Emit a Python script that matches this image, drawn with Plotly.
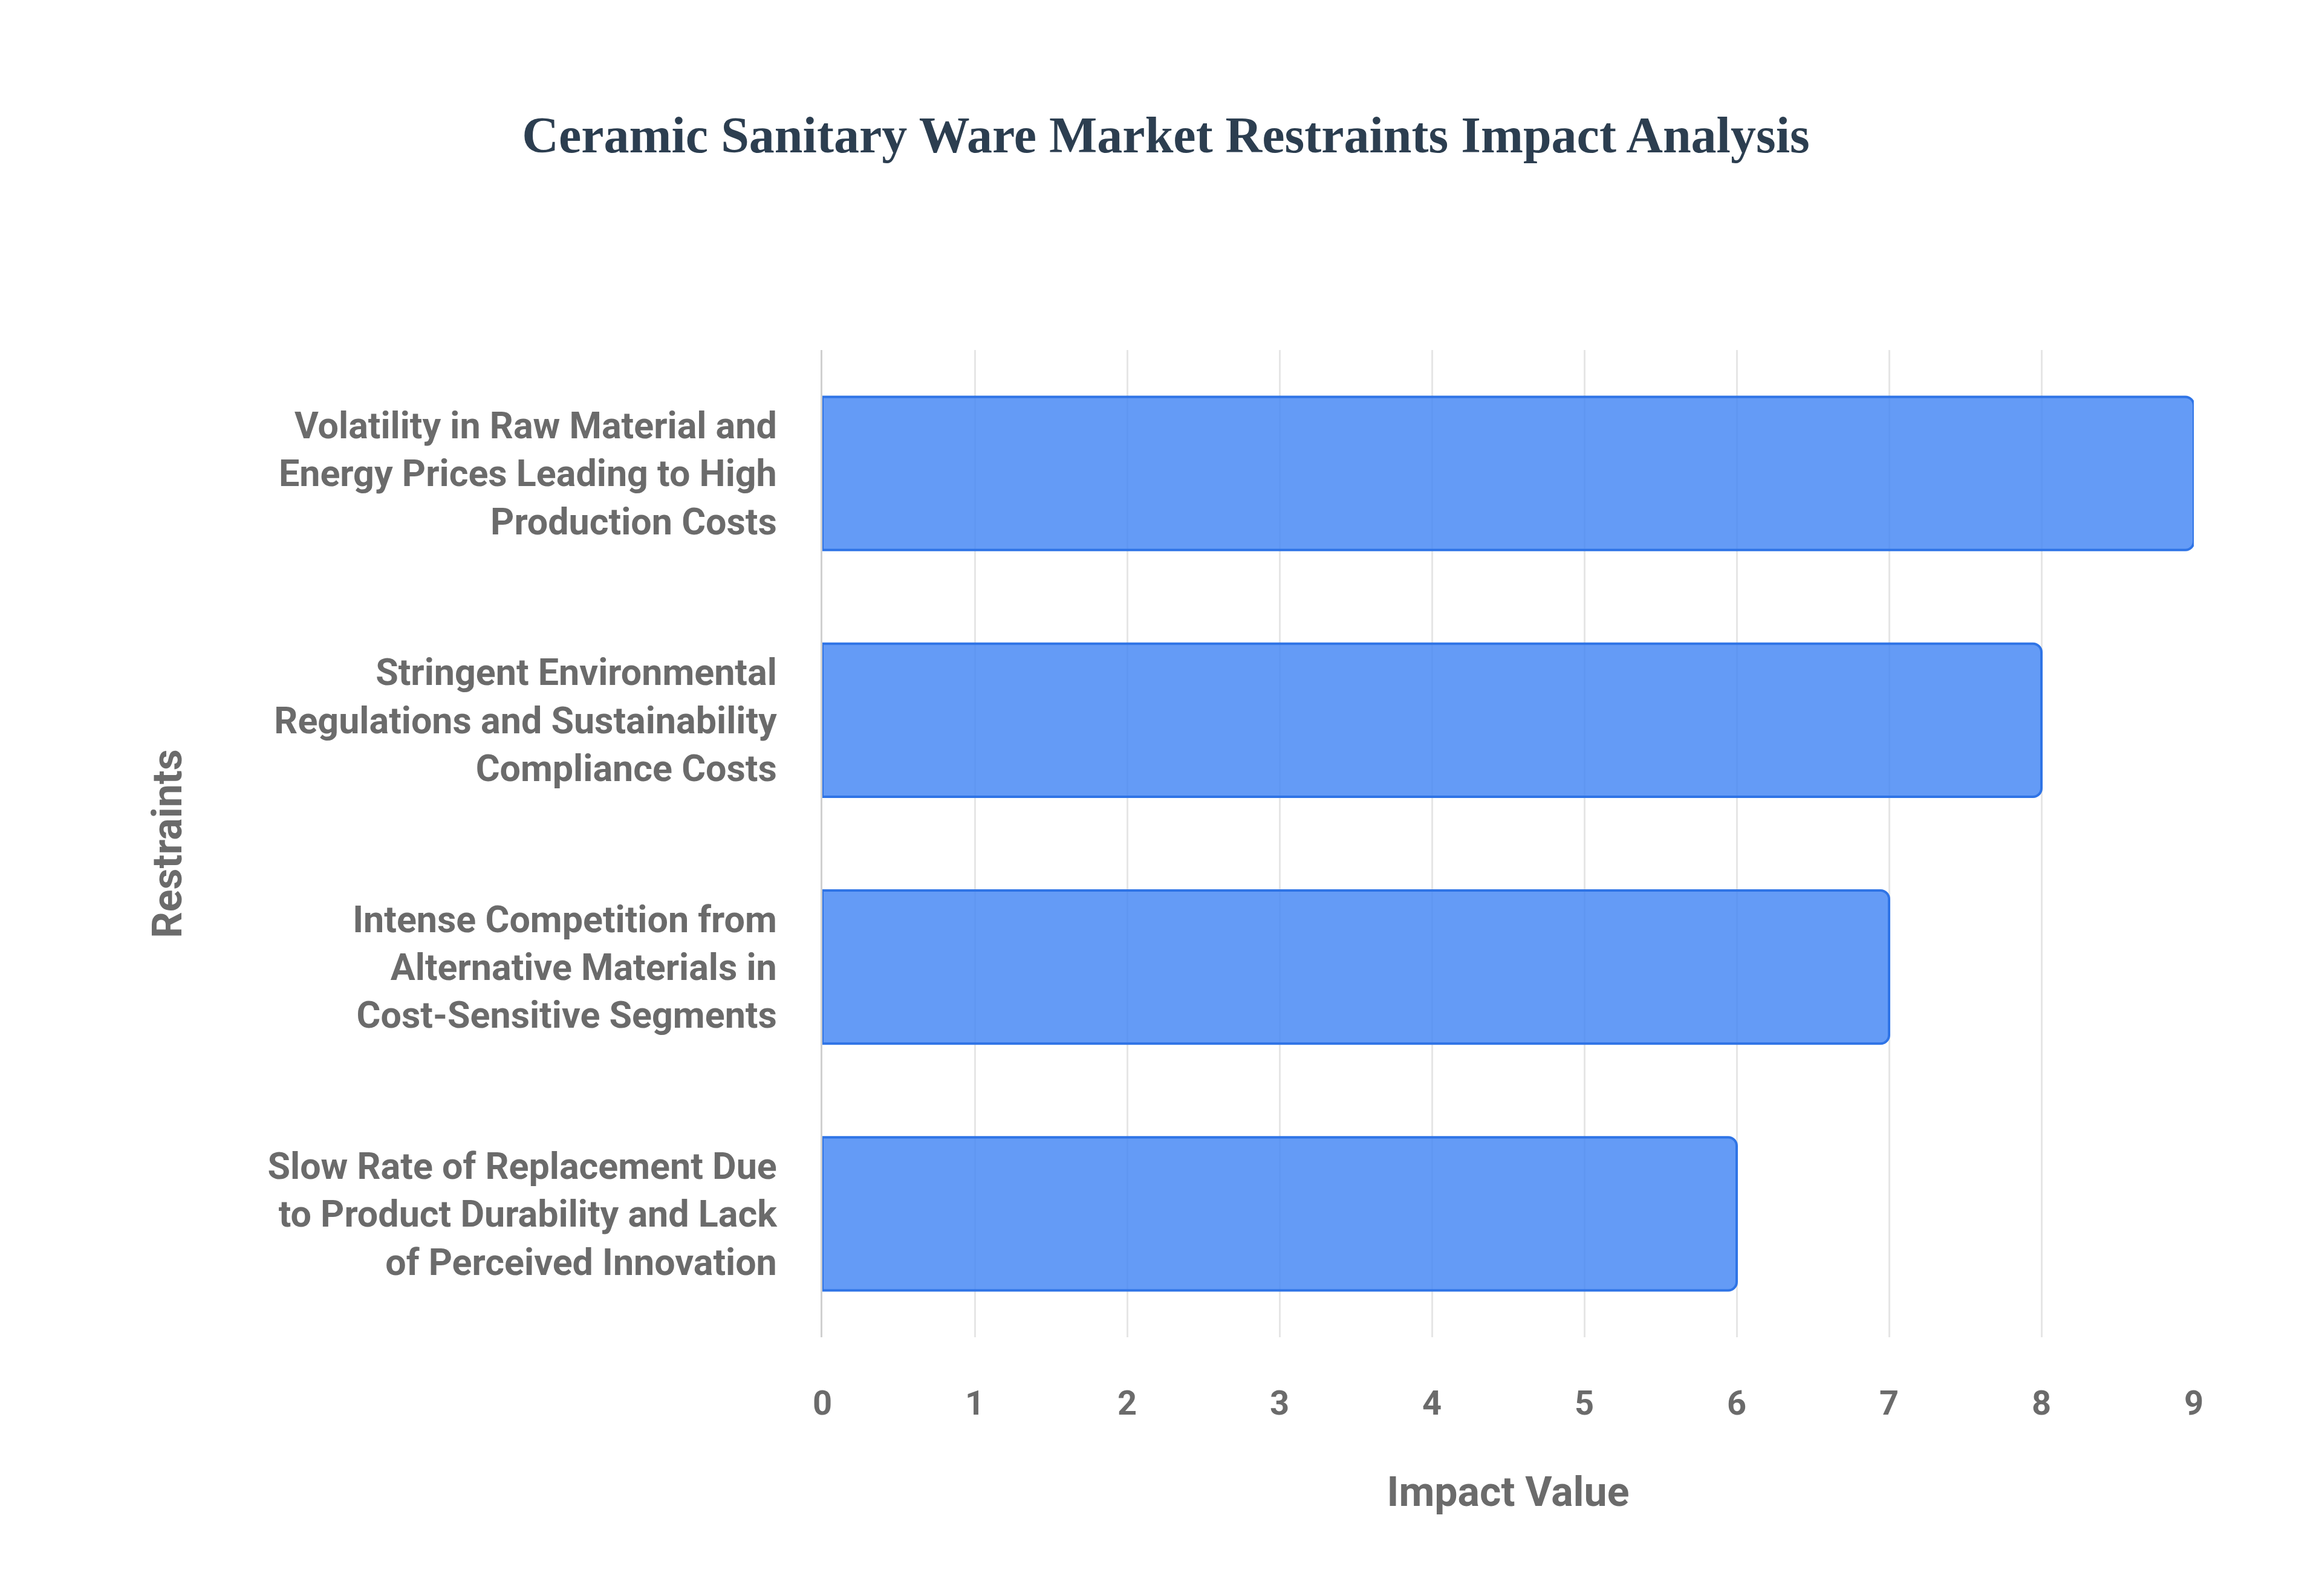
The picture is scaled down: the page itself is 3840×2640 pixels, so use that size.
import plotly.graph_objects as go

categories = [
    "Slow Rate of Replacement Due<br>to Product Durability and Lack<br>of Perceived Innovation",
    "Intense Competition from<br>Alternative Materials in<br>Cost-Sensitive Segments",
    "Stringent Environmental<br>Regulations and Sustainability<br>Compliance Costs",
    "Volatility in Raw Material and<br>Energy Prices Leading to High<br>Production Costs",
]
values = [6, 7, 8, 9]

fig = go.Figure(go.Bar(
    x=values, y=categories, orientation="h", width=0.62,
    marker=dict(color="rgba(66,133,244,0.82)", line=dict(color="#2f74e6", width=4), cornerradius=14),
))
ytickfont = dict(family="Roboto", size=61, color="#6b6b6b", weight="bold")
xtickfont = dict(family="Roboto", size=56, color="#6b6b6b", weight="bold")
fig.update_layout(
    width=3840, height=2640,
    margin=dict(l=1352, r=220, t=571, b=436),
    paper_bgcolor="white", plot_bgcolor="white",
    title=dict(text="<b>Ceramic Sanitary Ware Market Restraints Impact Analysis</b>",
               x=0.5, xanchor="center", y=0.93, yanchor="top",
               font=dict(family="Liberation Serif", size=84, color="#2c3e50")),
    xaxis=dict(range=[0, 9], dtick=1, tickfont=xtickfont, showgrid=True, gridcolor="#e6e6e6", gridwidth=3,
               zeroline=False, ticks="outside", ticklen=60, tickcolor="white",
               title=dict(text="<b>Impact Value</b>", standoff=90,
                          font=dict(family="Roboto", size=68, color="#6b6b6b"))),
    yaxis=dict(tickfont=ytickfont, showline=True, linecolor="#d0d0d0", linewidth=3,
               ticks="outside", ticklen=60, tickcolor="white",
               title=dict(text="<b>Restraints</b>", standoff=120,
                          font=dict(family="Roboto", size=68, color="#6b6b6b"))),
    bargap=0.38,
)
fig.write_html("out.html")
